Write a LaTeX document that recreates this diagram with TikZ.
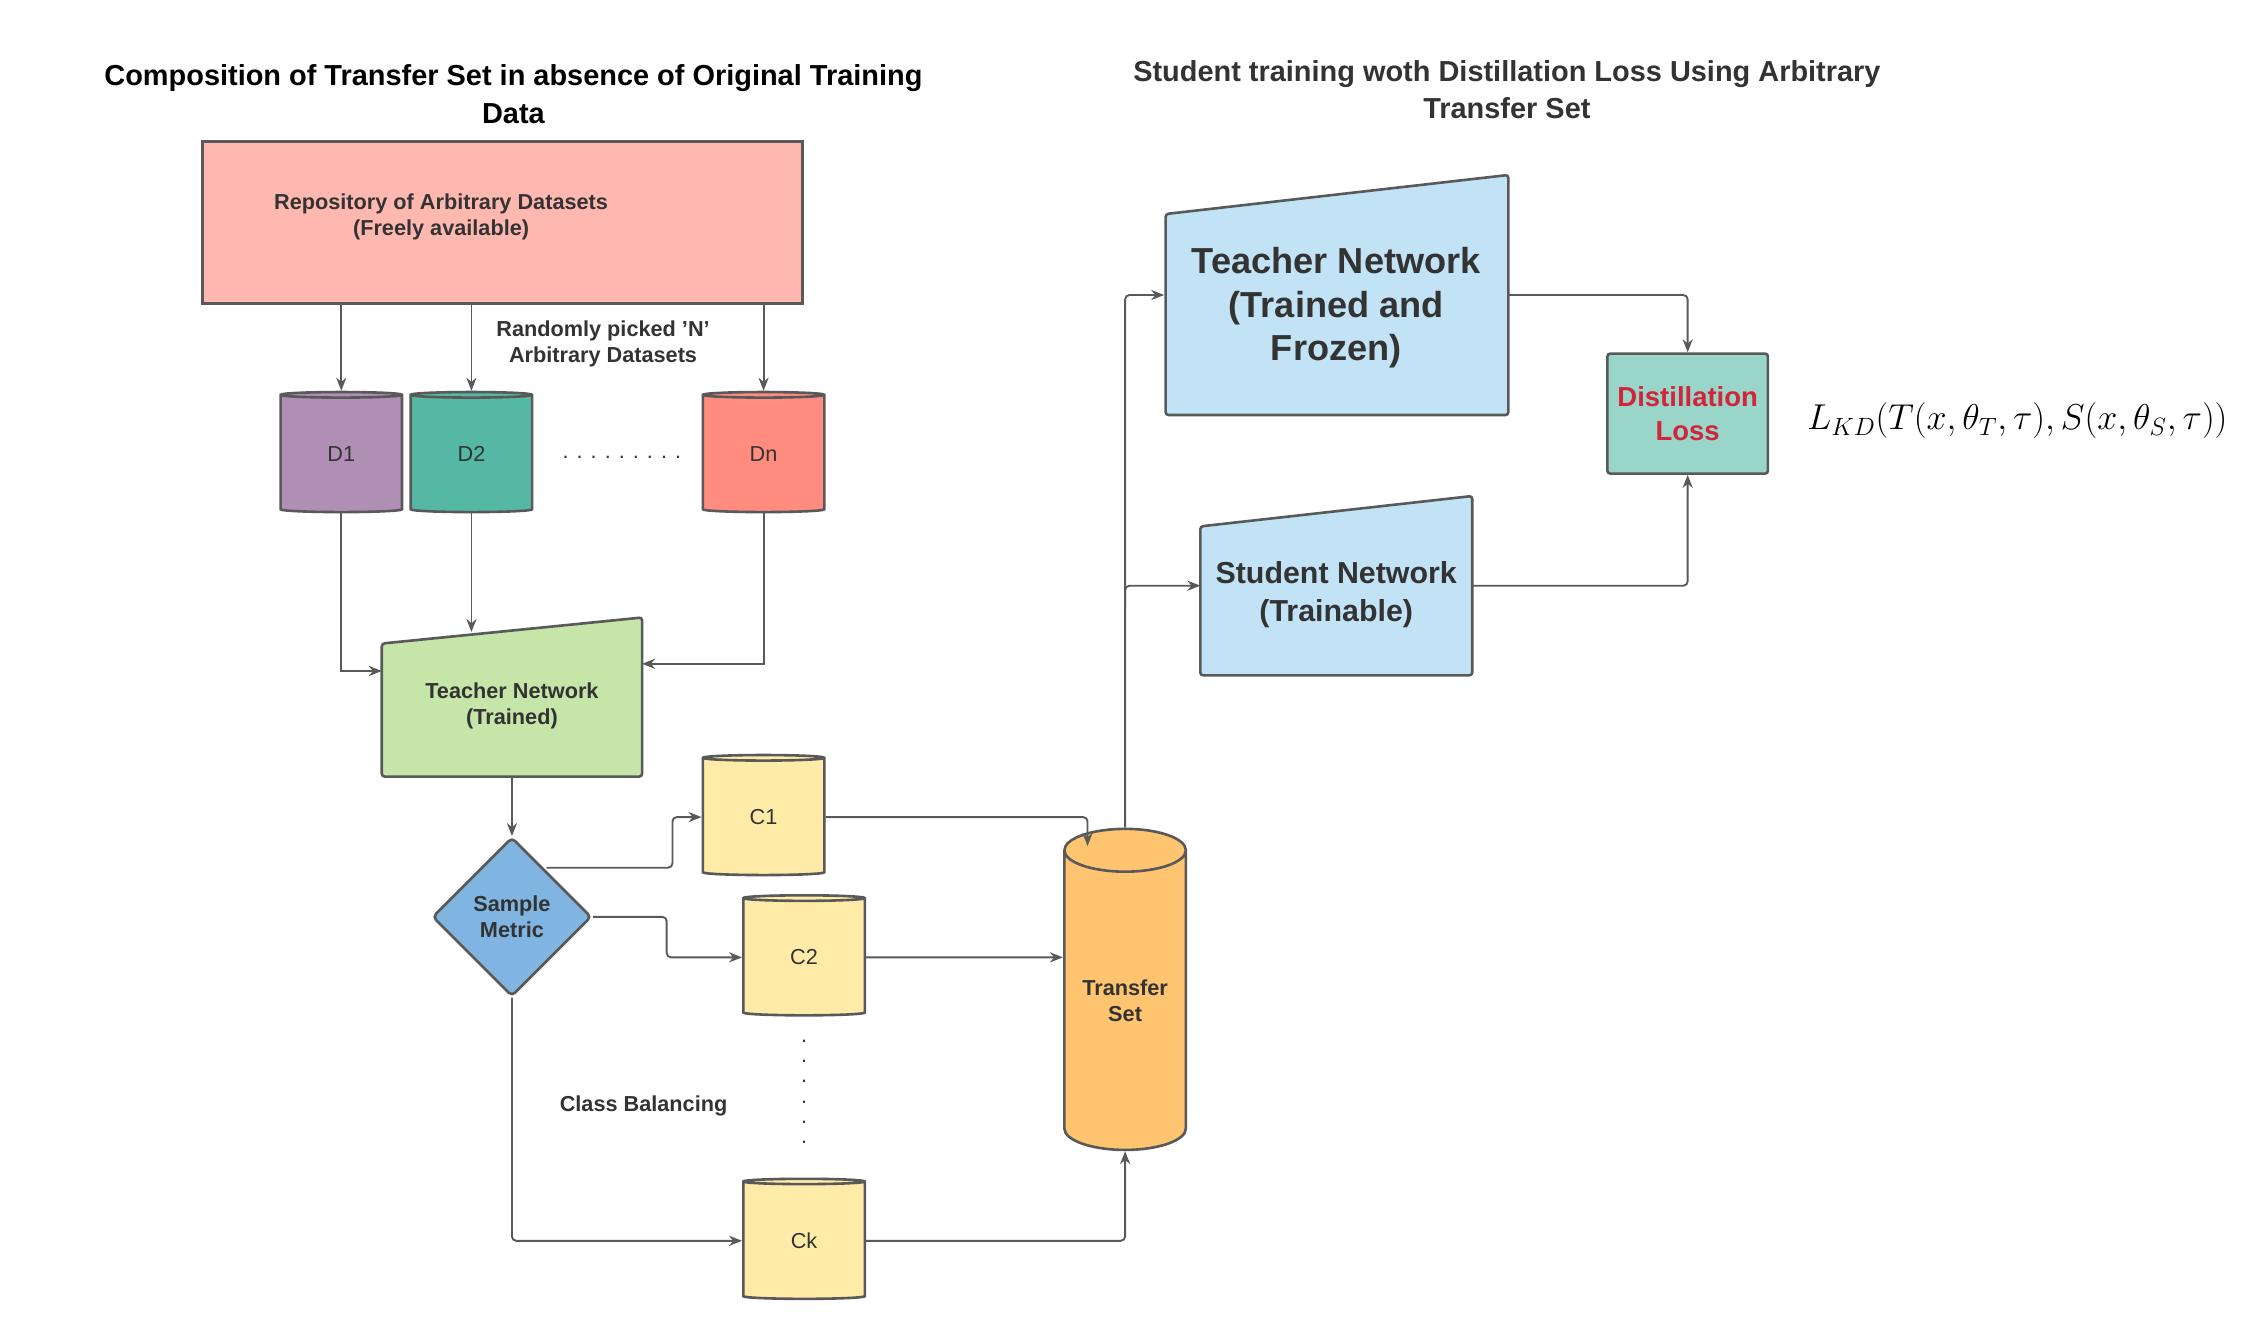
\documentclass[tikz,border=0pt]{standalone}
\usepackage{fontspec}
\setmainfont{Liberation Sans}
\newfontfamily\mathserif{Liberation Serif}
\usetikzlibrary{shapes.geometric,arrows.meta}
\definecolor{ln}{HTML}{595959}
\definecolor{txt}{HTML}{333333}
\begin{document}
\begin{tikzpicture}[x=1pt,y=-1pt,
  every node/.style={text=txt,font=\fontsize{15}{18}\selectfont},
  link/.style={draw=ln,line width=1.3pt,-{Stealth[length=9pt,width=7pt]}},
  shp/.style={draw=ln,line width=1.8pt,rounded corners=2pt},
  can/.style={shape=cylinder,shape border rotate=90,aspect=0.2,draw=ln,line width=1.8pt,
    minimum width=84pt,minimum height=83pt,inner sep=0pt},
  hd/.style={font=\bfseries\fontsize{20}{26}\selectfont,align=center,text=black}]
\useasboundingbox (0,0) rectangle (1560,925);

% titles
\node[hd] (t1) at (355,65) {Composition of Transfer Set in absence of Original Training\\Data};
\node[hd,text=txt] (t2) at (1042,62) {Student training woth Distillation Loss Using Arbitrary\\Transfer Set};

% repository
\node[shape=cylinder,shape border rotate=0,aspect=0.75,draw=ln,line width=1.8pt,
  fill={rgb,255:red,255;green,184;blue,176},minimum width=112pt,minimum height=415pt,inner sep=0pt]
  (rep) at (347,154) {};
\node[font=\bfseries\fontsize{15}{18}\selectfont,align=center] (rept) at (305,150) {Repository of Arbitrary Datasets\\(Freely available)};
\coordinate (r1) at (236,210); \coordinate (r2) at (326,210); \coordinate (r3) at (528,210);
\node[font=\bfseries\fontsize{15}{18}\selectfont,align=center] (rnd) at (417,238) {Randomly picked 'N'\\Arbitrary Datasets};

% datasets
\node[can,fill={rgb,255:red,176;green,143;blue,181}] (d1) at (236,314) {D1};
\node[can,fill={rgb,255:red,85;green,184;blue,165}] (d2) at (326,314) {D2};
\node[can,fill={rgb,255:red,255;green,140;blue,126}] (dn) at (528,314) {Dn};
\node (dots) at (430,316) {. . . . . . . . .};
\draw[link] (r1) -- (d1.top);
\draw[link] (r2) -- (d2.top);
\draw[link] (r3) -- (dn.top);

% teacher (trained)
\draw[shp,fill={rgb,255:red,197;green,230;blue,168}] (264,445) -- (444,427) -- (444,537) -- (264,537) -- cycle;
\node[font=\bfseries\fontsize{15}{18}\selectfont,align=center] (tn) at (354,488) {Teacher Network\\(Trained)};
\coordinate (tnl) at (264,464); \coordinate (tnt) at (326,437); \coordinate (tnr) at (444,459);
\coordinate (tnb) at (354,537);
\draw[link] (d1.bottom) |- (tnl);
\draw[link] (d2.bottom) -- (tnt);
\draw[link] (dn.bottom) |- (tnr);

% sample metric
\node[diamond,draw=ln,line width=1.8pt,fill={rgb,255:red,127;green,181;blue,224},minimum width=110pt,minimum height=110pt,
  inner sep=0pt,font=\bfseries\fontsize{15}{18}\selectfont,align=center,rounded corners=3pt] (sm) at (354,634) {Sample\\Metric};
\draw[link] (tnb) -- (sm.north);

% classes
\node[can,fill={rgb,255:red,255;green,235;blue,168}] (c1) at (528,565) {C1};
\node[can,fill={rgb,255:red,255;green,235;blue,168}] (c2) at (556,662) {C2};
\node[can,fill={rgb,255:red,255;green,235;blue,168}] (ck) at (556,858) {Ck};
\node[align=center,font=\fontsize{15}{14}\selectfont] (vd) at (556,755) {.\\.\\.\\.\\.\\.};
\node[font=\bfseries\fontsize{15}{18}\selectfont] (cb) at (445,765) {Class Balancing};
\coordinate (s1) at (378,600);
\draw[link,rounded corners=3pt] (s1) -- (465,600) -- (465,565) -- (c1.west);
\draw[link,rounded corners=3pt] (sm.east) -- (461,634) -- (461,662) -- (c2.west);
\draw[link,rounded corners=3pt] (sm.south) -- (354,858) -- (ck.west);

% transfer set
\node[can,aspect=0.5,minimum height=222pt,minimum width=84pt,fill={rgb,255:red,255;green,196;blue,112},
  font=\bfseries\fontsize{15}{18}\selectfont,align=center] (ts) at (778,692) {Transfer\\Set};
\coordinate (tsa) at (752,585);
\draw[link,rounded corners=3pt] (c1.east) -- (752,565) -- (tsa);
\draw[link] (c2.east) -- (735,662);
\draw[link,rounded corners=3pt] (ck.east) -- (778,858) -- (ts.bottom);

% teacher / student networks
\draw[shp,fill={rgb,255:red,194;green,227;blue,245}] (806,148) -- (1043,121) -- (1043,287) -- (806,287) -- cycle;
\node[font=\bfseries\fontsize{25}{30}\selectfont,align=center] (tf) at (924,213) {Teacher Network\\(Trained and\\Frozen)};
\draw[shp,fill={rgb,255:red,194;green,227;blue,245}] (830,364) -- (1018,343) -- (1018,467) -- (830,467) -- cycle;
\node[font=\bfseries\fontsize{21}{26}\selectfont,align=center] (st) at (924,411) {Student Network\\(Trainable)};
\coordinate (tfl) at (805,204); \coordinate (tfr) at (1043,204);
\coordinate (stl) at (830,405); \coordinate (str) at (1018,405);
\draw[link,rounded corners=3pt] (ts.top) -- (778,204) -- (tfl);
\draw[link,rounded corners=3pt] (778,420) -- (778,405) -- (stl);

% distillation loss
\node[draw=ln,line width=1.8pt,rounded corners=2pt,fill={rgb,255:red,154;green,213;blue,202},minimum width=111pt,minimum height=83pt,
  align=center,font=\bfseries\fontsize{19}{24}\selectfont,text={rgb,255:red,208;green,37;blue,58}] (dl) at (1167,286) {Distillation\\Loss};
\draw[link,rounded corners=3pt] (tfr) -- (1167,204) -- (dl.north);
\draw[link,rounded corners=3pt] (str) -- (1167,405) -- (dl.south);

\node[text=black,font=\fontsize{26}{30}\selectfont] (eq) at (1395,291) {$L_{KD}(T(x,\theta_T,\tau),S(x,\theta_S,\tau))$};
\end{tikzpicture}
\end{document}
